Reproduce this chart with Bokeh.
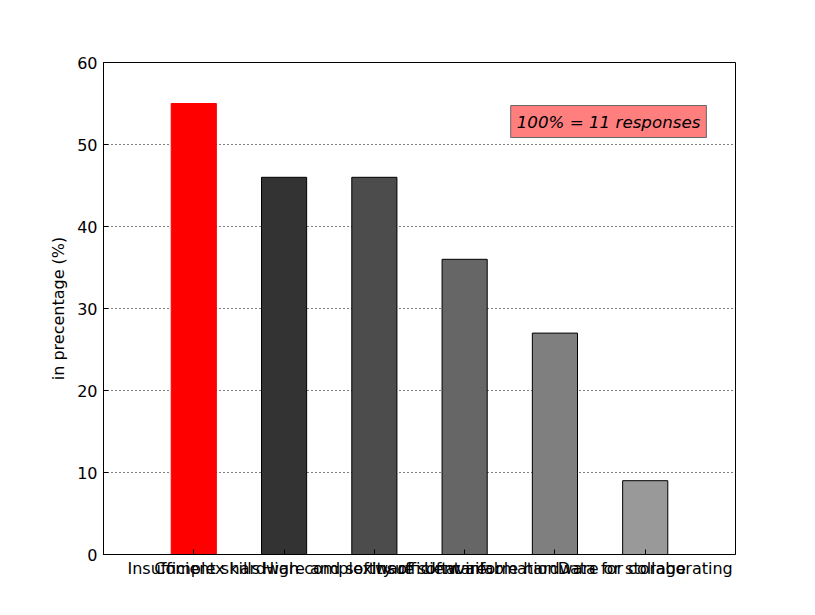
from bokeh.plotting import figure
from bokeh.models import Range1d, FixedTicker, Label, ColumnDataSource
from bokeh.embed import file_html
from bokeh.resources import INLINE

categories = ["Insufficient skills", "Complex hardware and software",
              "High complexity of software", "Insufficient information",
              "Unavailable hardware or storage", "Data for collaborating"]
values = [55, 46, 46, 36, 27, 9]
colors = ["#ff0000", "#333333", "#4c4c4c", "#666666", "#7f7f7f", "#999999"]
edges = ["#ff0000", "#000000", "#000000", "#000000", "#000000", "#000000"]
positions = list(range(1, len(categories) + 1))
y_ticks = [0, 10, 20, 30, 40, 50, 60]

src = ColumnDataSource(dict(x=positions, top=values, fill=colors, edge=edges))

p = figure(width=800, height=600, output_backend="svg", toolbar_location=None,
           x_range=Range1d(0, 7), y_range=Range1d(0, 60),
           min_border_left=103, min_border_right=65, min_border_top=62, min_border_bottom=46)

p.vbar(x="x", top="top", width=0.5, bottom=0, fill_color="fill", line_color="edge",
       line_width=1, source=src)

p.xgrid.visible = False
p.ygrid.grid_line_color = "black"
p.ygrid.grid_line_dash = "1 3"
p.ygrid.grid_line_width = 1
p.ygrid.ticker = FixedTicker(ticks=y_ticks)

p.xaxis.ticker = FixedTicker(ticks=positions)
p.xaxis.major_label_overrides = {pos: lab for pos, lab in zip(positions, categories)}
p.yaxis.ticker = FixedTicker(ticks=y_ticks)
for ax in (p.xaxis[0], p.yaxis[0]):
    ax.major_tick_in = 5
    ax.major_tick_out = 0
    ax.minor_tick_line_color = None
    ax.major_label_text_font = "DejaVu Sans"
    ax.major_label_text_font_size = "16px"
    ax.major_label_text_color = "black"
    ax.axis_line_color = "black"
    ax.major_tick_line_color = "black"
p.xaxis.major_label_standoff = 4
p.yaxis.major_label_standoff = 6
p.yaxis.axis_label = "in precentage (%)"
p.yaxis.axis_label_text_font = "DejaVu Sans"
p.yaxis.axis_label_text_font_size = "16px"
p.yaxis.axis_label_text_font_style = "normal"
p.yaxis.axis_label_text_color = "black"
p.yaxis.axis_label_standoff = 6

p.outline_line_color = "black"
p.outline_line_alpha = 1
p.outline_line_width = 1

note = Label(x=4.51, y=52.8, text="100% = 11 responses", text_font="DejaVu Sans",
             text_font_size="16.7px", text_font_style="italic", text_color="black",
             text_align="left", text_baseline="middle",
             background_fill_color="#ff7f7f", background_fill_alpha=1,
             border_line_color="#666666", border_line_width=1, padding=6)
p.add_layout(note)

p.background_fill_color = "white"
p.border_fill_color = "white"

open("out.html", "w").write(file_html(p, INLINE))
